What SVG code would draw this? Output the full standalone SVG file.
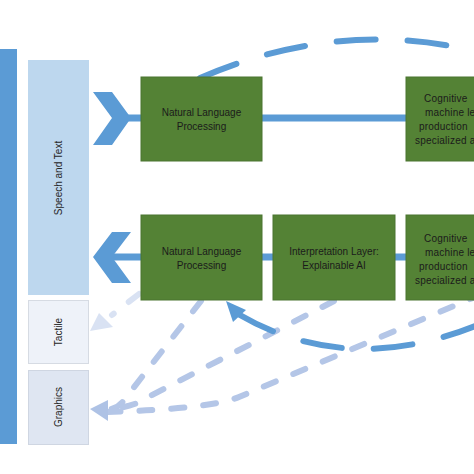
<svg xmlns="http://www.w3.org/2000/svg" width="474" height="474" viewBox="0 0 474 474">
<style>
.box{fill:#548235;stroke:#4a7530;stroke-width:1}
.t{font-family:"Liberation Sans",Arial,sans-serif;font-size:10px;fill:#1b1b1b;text-anchor:middle}
.ts{font-family:"Liberation Sans",Arial,sans-serif;font-size:10px;fill:#1b1b1b;letter-spacing:0.2px}
.rl{font-family:"Liberation Sans",Arial,sans-serif;font-size:10px;fill:#262626;text-anchor:middle}
.solid{fill:#5b9bd5}
.dark{fill:none;stroke:#5b9bd5;stroke-width:6;stroke-linecap:round;stroke-dasharray:39 32}
.light{fill:none;stroke:#b4c6e7;stroke-width:6;stroke-linecap:round;stroke-dasharray:13 19}
.pale{fill:none;stroke:#d9e2f3;stroke-width:6;stroke-linecap:round;stroke-dasharray:13 19}
</style>
<rect width="474" height="474" fill="#ffffff"/>
<g id="bar"><rect x="0" y="49" width="17" height="395" fill="#5b9bd5"/></g>
<g id="speech"><rect x="28" y="60" width="61" height="235" fill="#bdd7ee"/>
<text class="rl" transform="translate(58.5,178) rotate(-90)" dy="0.35em">Speech and Text</text></g>
<g id="tactile"><rect x="28.5" y="300.5" width="60" height="63" fill="#eef2f9" stroke="#d6dbe3"/>
<text class="rl" transform="translate(58.5,332) rotate(-90)" dy="0.35em">Tactile</text></g>
<g id="graphics"><rect x="28.5" y="370.5" width="60" height="74" fill="#dfe6f2" stroke="#cfd6e2"/>
<text class="rl" transform="translate(58.5,407) rotate(-90)" dy="0.35em">Graphics</text></g>
<g id="connectors">
<path class="pale" d="M139,294 L112,315"/>
<polygon points="90,331 99,313 113,327" fill="#d9e2f3"/>
<path class="light" d="M201,301 L124,400 Q118,409 106,410"/>
<path class="light" d="M334,301 L150,396 Q138,406 106,410"/>
<path class="light" d="M482,294 L239,397 Q210,409 106,412"/>
<polygon points="90,409 108,400 108,421" fill="#aec2e5"/>
<rect class="solid" x="262" y="114.5" width="144" height="7"/>
<rect class="solid" x="262" y="253.5" width="11" height="7"/>
<rect class="solid" x="395" y="253.5" width="11" height="7"/>
<polygon class="solid" points="93,92 112,92 131,118 112,145 93,145 112,118"/>
<rect class="solid" x="128" y="114.5" width="13" height="7"/>
<polygon class="solid" points="93,257 112,232 131,232 112,257 131,283 112,283"/>
<rect class="solid" x="110" y="253.5" width="31" height="7"/>
<path class="dark" d="M200,78 Q380,0 560,80"/>
<path class="dark" d="M238,314 Q365,388 520,305"/>
<polygon class="solid" points="226,301 246,310 233,322"/>
</g>
<g id="nlp-top"><rect class="box" x="141" y="77" width="121" height="84"/>
<text class="t" x="201.5" y="115.5">Natural Language</text><text class="t" x="201.5" y="129.5">Processing</text></g>
<g id="cog-top"><rect class="box" x="406" y="77" width="80" height="84"/>
<text class="ts" x="424" y="101.5">Cognitive</text><text class="ts" x="425" y="115.5">machine le</text><text class="ts" x="419" y="129.5">production</text><text class="ts" x="415" y="143.5">specialized a</text></g>
<g id="nlp-bottom"><rect class="box" x="141" y="215" width="121" height="85"/>
<text class="t" x="201.5" y="254.5">Natural Language</text><text class="t" x="201.5" y="268.5">Processing</text></g>
<g id="interp"><rect class="box" x="273" y="215" width="122" height="85"/>
<text class="t" x="334" y="254.5">Interpretation Layer:</text><text class="t" x="334" y="268.5">Explainable AI</text></g>
<g id="cog-bottom"><rect class="box" x="406" y="215" width="80" height="85"/>
<text class="ts" x="424" y="241.5">Cognitive</text><text class="ts" x="425" y="255.5">machine le</text><text class="ts" x="419" y="269.5">production</text><text class="ts" x="415" y="283.5">specialized a</text></g>
</svg>
